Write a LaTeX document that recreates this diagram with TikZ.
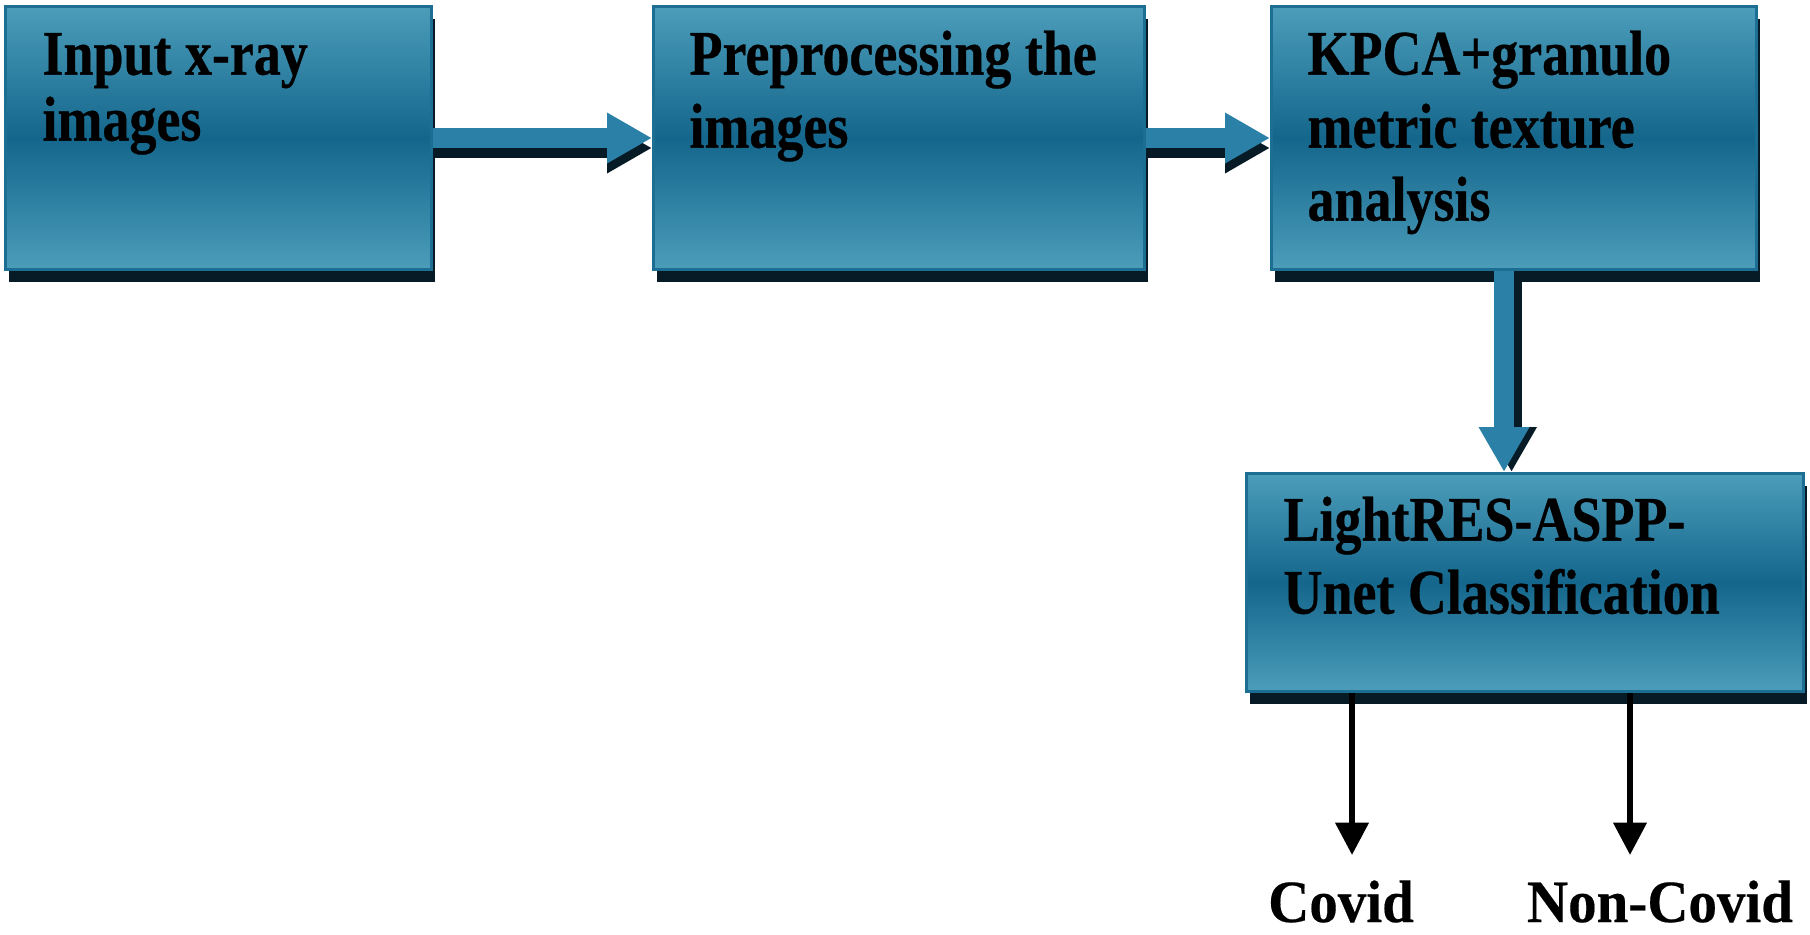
\documentclass[tikz,border=0pt]{standalone}
\usepackage{fontspec}
\setmainfont{Liberation Serif}
\newfontfamily\boxfont{Liberation Serif}[FakeStretch=0.85, BoldFeatures={FakeBold=0.5}]
\newfontfamily\tagfont{Liberation Serif}[FakeStretch=0.95, BoldFeatures={FakeBold=0.3}]
\usetikzlibrary{arrows.meta,shadows}

\definecolor{boxlight}{HTML}{4C9DBA}
\definecolor{boxdark}{HTML}{14668C}
\definecolor{boxedge}{HTML}{1C6E93}
\definecolor{boxshade}{HTML}{061B25}
\definecolor{flowteal}{HTML}{2A80A6}

\tikzset{
  stage/.style={rectangle, draw=boxedge, line width=1.2pt, inner sep=0pt, anchor=north west,
    top color=boxlight, bottom color=boxlight, middle color=boxdark,
    drop shadow={shadow xshift=1.2pt, shadow yshift=-4.8pt, fill=boxshade, opacity=1}},
  stagetext/.style={anchor=north west, inner sep=0pt, align=left,
    font=\boxfont\bfseries\fontsize{25.4}{29.2}\selectfont},
  outtext/.style={anchor=base, inner sep=0pt, font=\tagfont\bfseries\fontsize{24}{28}\selectfont},
  flow/.style={draw=flowteal, line width=8pt, -{Triangle[length=18pt,width=19pt]}},
  flowshade/.style={draw=boxshade, line width=8pt, -{Triangle[length=18pt,width=19pt]}},
  result/.style={draw=black, line width=2.4pt, -{Triangle[length=13pt,width=13pt]}}
}

\begin{document}
\begin{tikzpicture}[x=0.4pt, y=-0.4pt]
	%%%%% FRAME %%%%%
	\useasboundingbox (0, 0) rectangle (1810, 934);
	
	%%%%% STAGES %%%%%
	\node[stage, minimum width=170.4pt, minimum height=105.2pt] (in) at (4, 5) {};
	\node[stage, minimum width=196.4pt, minimum height=105.2pt] (pre) at (652, 5) {};
	\node[stage, minimum width=194pt, minimum height=105.2pt] (kpca) at (1270, 5) {};
	\node[stage, minimum width=222.8pt, minimum height=87.2pt] (cls) at (1245, 472) {};
	
	\node[stagetext] (inT) at ([xshift=15.2pt, yshift=-7.2pt]in.north west) {\strut Input x-ray\\[-2.8pt] images};
	\node[stagetext] (preT) at ([xshift=14.8pt, yshift=-7.2pt]pre.north west) {\strut Preprocessing the\\ images};
	\node[stagetext] (kpcaT) at ([xshift=14.8pt, yshift=-7.2pt]kpca.north west) {\strut KPCA+granulo\\ metric texture\\ analysis};
	\node[stagetext] (clsT) at ([xshift=15.2pt, yshift=-6.8pt]cls.north west) {\strut LightRES-ASPP-\\ Unet Classification};
	
	%%%%% FLOW %%%%%
	\draw[flowshade, transform canvas={yshift=-4pt}] (in.east) -- (pre.west);
	\draw[flow] (in.east) -- (pre.west);
	
	\draw[flowshade, transform canvas={yshift=-4pt}] (pre.east) -- (kpca.west);
	\draw[flow] (pre.east) -- (kpca.west);
	
	\draw[flowshade, transform canvas={xshift=3pt}] ([xshift=-4pt]kpca.south) -- ([xshift=-4pt]kpca.south |- cls.north);
	\draw[flow] ([xshift=-4pt]kpca.south) -- ([xshift=-4pt]kpca.south |- cls.north);
	
	%%%%% RESULTS %%%%%
	\coordinate (covTip) at (1352, 855);
	\coordinate (nonTip) at (1630, 855);
	\draw[result] (covTip |- cls.south) -- (covTip);
	\draw[result] (nonTip |- cls.south) -- (nonTip);
	
	\node[outtext] (covid) at (1341, 922) {Covid};
	\node[outtext] (noncovid) at (1660, 922) {Non-Covid};
	
\end{tikzpicture}
\end{document}
